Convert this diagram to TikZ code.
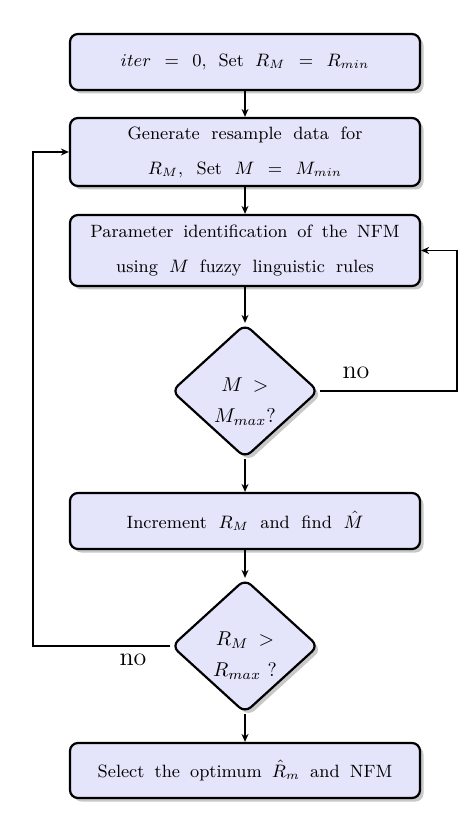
\documentclass[tikz,border=0pt]{standalone}
\usetikzlibrary{shapes.geometric,arrows.meta,shadows}
\definecolor{boxfill}{RGB}{228,228,250}
\definecolor{shadowgray}{RGB}{200,200,200}
\newcommand\flowfont{\fontsize{8.9}{17.5}\selectfont\thickmuskip=13mu\relax}
\newcommand\decfont{\fontsize{9.75}{15.5}\selectfont\thickmuskip=9mu\relax}
\begin{document}
\begin{tikzpicture}[x=0.5pt,y=-0.5pt,
  shad/.style={drop shadow={shadow xshift=1.75pt,shadow yshift=-1.75pt,fill=shadowgray,opacity=1}},
  box/.style={draw=black,line width=1.1pt,rounded corners=4pt,fill=boxfill,shad,
    minimum width=175pt,text width=172pt,align=center,inner sep=0pt,font=\flowfont,
    execute at begin node={\spaceskip=0.5em plus 0.1em\relax}},
  dec/.style={diamond,draw=black,line width=1.1pt,rounded corners=4pt,fill=boxfill,shad,
    minimum width=73.5pt,minimum height=67pt,inner sep=0pt},
  dtext/.style={align=center,font=\decfont},
  arr/.style={line width=0.65pt,-{Stealth[length=4pt,width=3.5pt]}},
  lbl/.style={font=\fontsize{13}{15}\selectfont}]
\useasboundingbox (0,0) rectangle (474,838);
\node[box,minimum height=28pt] (b1) at (245,62) {$iter = 0$, Set $R_M = R_{min}$};
\node[box,minimum height=34pt] (b2) at (245,152) {Generate resample data for\\$R_M$, Set $M = M_{min}$};
\node[box,minimum height=35.5pt] (b3) at (245,250.5) {Parameter identification of the NFM\\using $M$ fuzzy linguistic rules};
\node[dec] (d1) at (245,391) {};
\node[dtext] (d1t) at (245,402) {$M >$\\$M_{max}?$};
\node[box,minimum height=28pt] (b4) at (245,521) {Increment $R_M$ and find $\hat{M}$};
\node[dec] (d2) at (245,646) {};
\node[dtext] (d2t) at (245,656) {$R_M >$\\$R_{max}$ ?};
\node[box,minimum height=27.5pt] (b5) at (245,770.5) {Select the optimum $\hat{R}_m$ and NFM};
\coordinate (c1) at (457,391);
\coordinate (c2) at (33,646);
\draw[arr] (b1.south) -- (b2.north);
\draw[arr] (b2.south) -- (b3.north);
\draw[arr] (b3.south) -- (d1.north);
\draw[arr] (d1.south) -- (b4.north);
\draw[arr] (b4.south) -- (d2.north);
\draw[arr] (d2.south) -- (b5.north);
\draw[arr] (d1.east) -- (c1) |- (b3.east);
\draw[arr] (d2.west) -- (c2) |- (b2.west);
\node[lbl] (no1) at (356,373) {no};
\node[lbl] (no2) at (133,660) {no};
\end{tikzpicture}
\end{document}
